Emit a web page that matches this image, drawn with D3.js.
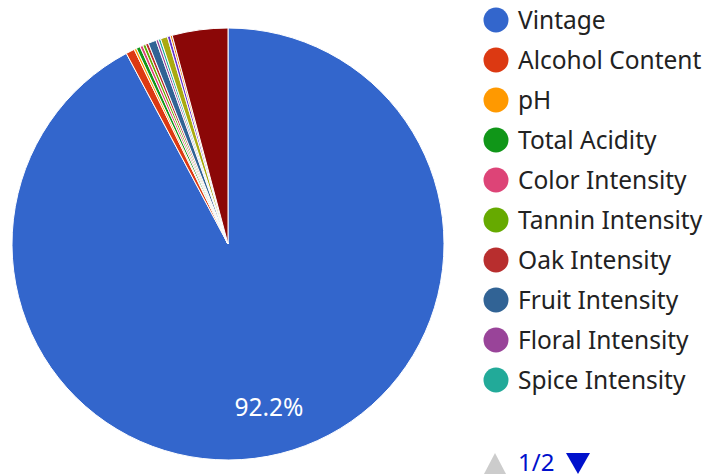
<!DOCTYPE html>
<html>
<head>
<meta charset="utf-8">
<script src="https://cdn.jsdelivr.net/npm/d3@7"></script>
<style>
  body { margin: 0; background: #fff; }
  text { font-family: "Noto Sans", "Open Sans", sans-serif; }
</style>
</head>
<body>
<script>
var width = 704, height = 476;

// slice names, in data order (the last four sit on legend page 2)
var categories = ["Vintage", "Alcohol Content", "pH", "Total Acidity", "Color Intensity",
    "Tannin Intensity", "Oak Intensity", "Fruit Intensity", "Floral Intensity", "Spice Intensity",
    "Body", "Sweetness", "Finish Length", "Price"];
// share of each slice, percent
var values = [92.2, 0.65, 0.18, 0.3, 0.22, 0.22, 0.22, 0.6, 0.18, 0.18, 0.52, 0.22, 0.15, 4.16];
var colors = ["#3366cc", "#dc3912", "#ff9900", "#109618", "#dd4477", "#66aa00", "#b82e2e",
    "#316395", "#994499", "#22aa99", "#aaaa11", "#6633cc", "#e67300", "#8b0707"];
var pageSize = 10;

var data = categories.map(function(c, i) { return {name: c, value: values[i], color: colors[i]}; });
var total = d3.sum(values);

var cx = 228, cy = 244, radius = 216;

var svg = d3.select("body").append("svg")
    .attr("width", width)
    .attr("height", height);

var pie = d3.pie().sort(null).value(function(d) { return d.value; });
var arc = d3.arc().innerRadius(0).outerRadius(radius);
var labelArc = d3.arc().innerRadius(radius * 0.78).outerRadius(radius * 0.78);

var g = svg.append("g").attr("transform", "translate(" + cx + "," + cy + ")");

var arcs = pie(data);

g.selectAll("path.slice")
    .data(arcs)
    .enter().append("path")
    .attr("class", "slice")
    .attr("d", arc)
    .style("fill", function(d) { return d.data.color; })
    .style("stroke", "#fff")
    .style("stroke-width", 1);

// only slices big enough get a label
g.selectAll("text.pct")
    .data(arcs.filter(function(d) { return d.value / total > 0.05; }))
    .enter().append("text")
    .attr("class", "pct")
    .attr("transform", function(d) { return "translate(" + labelArc.centroid(d) + ")"; })
    .attr("text-anchor", "middle")
    .attr("dy", "0.36em")
    .style("fill", "#fff")
    .style("font-size", "24.5px")
    .text(function(d) { return (d.value / total * 100).toFixed(1) + "%"; });

// legend, page 1
var legend = svg.append("g").attr("transform", "translate(496,20)");

var item = legend.selectAll("g.item")
    .data(data.slice(0, pageSize))
    .enter().append("g")
    .attr("class", "item")
    .attr("transform", function(d, i) { return "translate(0," + (i * 40) + ")"; });

item.append("circle")
    .attr("r", 12.5)
    .style("fill", function(d) { return d.color; });

item.append("text")
    .attr("x", 22)
    .attr("dy", "0.36em")
    .style("font-size", "24.5px")
    .style("fill", "#222")
    .text(function(d) { return d.name; });

// pager
var pages = Math.ceil(data.length / pageSize);
var pager = svg.append("g").attr("transform", "translate(0,462)");

pager.append("path")
    .attr("d", "M484,12 L506,12 L495,-9 Z")
    .style("fill", "#cccccc");

pager.append("text")
    .attr("x", 518)
    .attr("dy", "0.36em")
    .style("font-size", "24px")
    .style("fill", "#0011cc")
    .text("1/" + pages);

pager.append("path")
    .attr("d", "M566,-9 L590,-9 L578,12 Z")
    .style("fill", "#0011cc");
</script>
</body>
</html>
